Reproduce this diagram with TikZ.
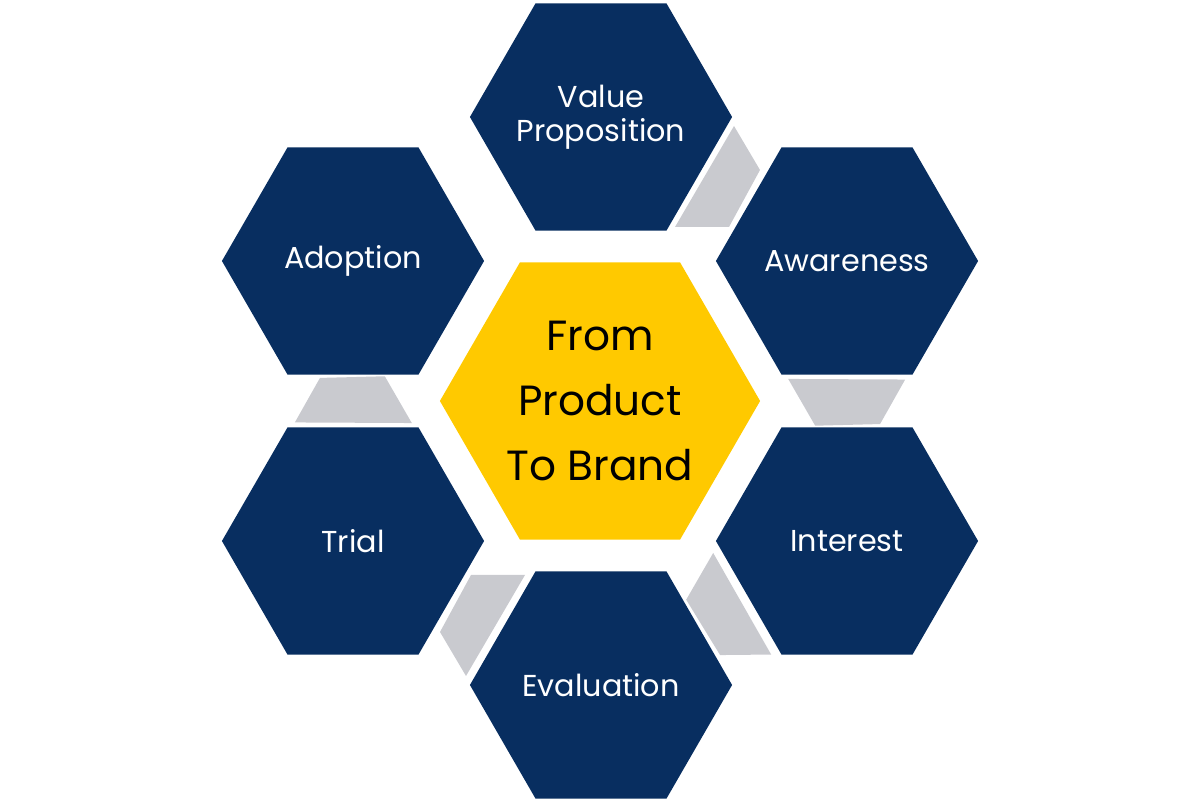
\documentclass[tikz,border=0pt]{standalone}
\usepackage{fontspec}
\setmainfont{Poppins}
\usetikzlibrary{shapes.geometric}
\definecolor{navy}{HTML}{082E60}
\definecolor{gold}{HTML}{FFC900}
\definecolor{gr}{HTML}{C9CACF}
\begin{document}
\begin{tikzpicture}[x=0.01cm,y=-0.01cm,
  hex/.style={regular polygon,regular polygon sides=6,shape border rotate=0,inner sep=-12pt,fill=navy,text=white,align=center,minimum size=2.62cm,font=\fontsize{8.6}{9.6}\selectfont},
  conn/.style={fill=gr}]
\useasboundingbox (0,0) rectangle (1200,804);
\node[hex,fill=gold,text=black,minimum size=3.2cm,font=\fontsize{12}{18.4}\selectfont] (c) at (600,401) {From\\Product\\To Brand};
\node[hex] (v) at (601,117) {Value\\Proposition};
\node[hex] (a) at (847,261) {Awareness};
\node[hex] (i) at (847,541) {Interest};
\node[hex] (e) at (601,685) {Evaluation};
\node[hex] (t) at (353,541) {Trial};
\node[hex] (d) at (353,261) {Adoption};
\foreach \k in {0,1,2,3,4}{
  \begin{scope}[rotate around={-60*\k:(600,401)}]
  \fill[conn] (734,126) -- (760,170) -- (729,227) -- (675,227) -- cycle;
  \end{scope}}
\end{tikzpicture}
\end{document}
